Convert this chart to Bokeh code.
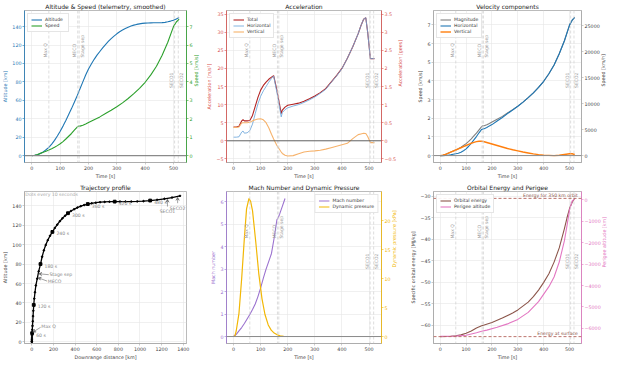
import numpy as np
from bokeh.plotting import figure
from bokeh.models import (Range1d, LinearAxis, FixedTicker, Legend, LegendItem,
                          Span, Label, Arrow, VeeHead)
from bokeh.layouts import gridplot
from bokeh.embed import file_html
from bokeh.resources import INLINE
from bokeh.core.properties import value

FONT = "DejaVu Sans"
TICK_FS = "4.8px"
LAB_FS = "4.8px"
TITLE_FS = "6px"
ANN_FS = "4.6px"

# ------------------------------------------------------------------ data
T10 = list(range(0, 521, 10))
ALTITUDE = [0, 0.3, 1.0, 2.2, 4.0, 6.3, 9.0, 12.5, 16.5, 21.2, 26.5, 32, 38, 44.5, 51, 58,
            65, 72.5, 80, 87.5, 94, 99.5, 104.5, 109, 113, 117, 120.5, 124, 127, 129.7,
            132.2, 134.5, 136.3, 138, 139.4, 140.6, 141.6, 142.4, 143, 143.5, 143.8, 144,
            144.1, 144.2, 144.2, 144.2, 144.3, 144.6, 145.2, 146, 147, 148.3, 150]
DOWNRANGE = [0, 0, 0.1, 0.3, 0.7, 1.5, 2.7, 4.2, 6, 8.5, 11, 14, 17.5, 22.5, 29, 37, 50, 63,
             80, 95, 111, 128, 147, 168, 190, 212, 235, 259, 283, 308, 334, 362, 391, 421,
             452, 484, 517, 553, 591, 631, 673, 718, 766, 815, 866, 919, 974, 1032, 1094,
             1158, 1226, 1296, 1370]

SPEED_T = [0, 10, 20, 30, 40, 50, 60, 70, 80, 90, 100, 110, 120, 130, 140, 150, 160, 165,
           170, 180, 190, 200, 220, 240, 260, 280, 300, 320, 340, 360, 380, 400, 420, 440,
           460, 480, 500, 510, 520]
SPEED = [0, 0.02, 0.06, 0.12, 0.18, 0.24, 0.3, 0.37, 0.45, 0.54, 0.64, 0.76, 0.9, 1.05, 1.2,
         1.38, 1.55, 1.6, 1.6, 1.65, 1.72, 1.8, 1.95, 2.1, 2.28, 2.46, 2.65, 2.86, 3.1, 3.36,
         3.65, 3.98, 4.38, 4.85, 5.45, 6.15, 7.0, 7.25, 7.4]
V_HORIZ = [0, 0, 0.01, 0.02, 0.04, 0.07, 0.1, 0.13, 0.18, 0.26, 0.36, 0.5, 0.66, 0.84, 1.02,
           1.22, 1.4, 1.43, 1.44, 1.5, 1.59, 1.66, 1.85, 2.04, 2.25, 2.44, 2.64, 2.86, 3.1,
           3.36, 3.65, 3.98, 4.38, 4.85, 5.45, 6.15, 7.0, 7.25, 7.4]
V_VERT = [0, 0.02, 0.06, 0.12, 0.18, 0.24, 0.3, 0.36, 0.42, 0.48, 0.54, 0.6, 0.66, 0.71,
          0.75, 0.77, 0.77, 0.76, 0.74, 0.7, 0.66, 0.62, 0.54, 0.46, 0.38, 0.31, 0.25, 0.19,
          0.14, 0.09, 0.05, 0.02, 0.01, 0.0, 0.02, 0.06, 0.1, 0.1, 0.06]

ACC_T = [0, 10, 20, 30, 35, 40, 50, 60, 70, 80, 90, 100, 110, 120, 130, 140, 148, 160, 176,
         180, 190, 200, 220, 240, 260, 280, 300, 320, 340, 360, 380, 400, 420, 440, 460,
         470, 480, 488, 495, 505, 520]
ACC_TOTAL = [3.8, 3.8, 4.0, 5.5, 5.8, 5.5, 5.5, 5.6, 7.0, 9.5, 12.0, 14.0, 15.3, 16.2, 17.0,
             17.6, 18.0, 14.0, 7.5, 8.5, 9.3, 9.8, 10.1, 10.4, 10.9, 11.6, 12.4, 13.3, 14.4,
             16.2, 18.0, 20.0, 22.8, 26.0, 29.6, 31.8, 33.6, 34.0, 30.0, 22.7, 22.7]
ACC_HORIZ = [1.0, 1.0, 1.1, 2.4, 2.7, 2.1, 2.2, 2.8, 4.6, 7.5, 10.2, 12.3, 13.8, 15.0, 16.2,
             17.2, 17.9, 13.4, 6.6, 7.8, 8.6, 9.1, 9.6, 10.0, 10.6, 11.3, 12.1, 13.1, 14.2,
             16.1, 17.9, 19.9, 22.8, 26.0, 29.6, 31.8, 33.6, 34.0, 30.0, 22.7, 22.7]
ACC_VERT = [3.7, 3.7, 3.8, 4.9, 5.0, 5.0, 5.0, 5.1, 5.5, 5.8, 6.0, 6.1, 5.8, 5.0, 3.6, 1.8,
            0.5, -1.3, -3.1, -3.5, -4.0, -4.2, -4.1, -3.6, -3.1, -2.9, -2.8, -2.6, -2.3,
            -1.9, -1.5, -1.1, -0.7, 0.6, 1.7, 1.9, 2.1, 2.0, 1.2, -0.5, -0.5]

MACH_T = [0, 10, 20, 30, 40, 50, 60, 70, 80, 90, 100, 110, 120, 130, 140, 150, 160, 165,
          170, 180, 190]
MACH = [0, 0.1, 0.25, 0.4, 0.58, 0.78, 0.98, 1.2, 1.45, 1.78, 2.17, 2.6, 3.0, 3.35, 3.7,
        4.4, 5.2, 5.3, 5.45, 5.8, 6.15]
Q_T = [0, 5, 10, 20, 30, 40, 48, 57, 63, 70, 82, 93, 105, 116, 128, 139, 150, 161, 172, 185]
Q_KPA = [0, 0.1, 1.0, 4.0, 10.0, 17.0, 22.0, 23.8, 23.3, 21.7, 16.3, 10.9, 6.5, 3.8, 2.0,
         1.1, 0.6, 0.3, 0.12, 0.03]

E_T = [0, 40, 60, 80, 100, 120, 140, 160, 170, 200, 240, 280, 300, 340, 360, 380, 400, 420,
       440, 460, 480, 490, 500, 510, 520]
ENERGY = [-62.6, -62.5, -62.4, -62.2, -61.8, -61.3, -60.6, -60.1, -59.9, -59.3, -58.3, -57.1,
          -56.4, -54.6, -53.3, -51.8, -50.0, -48.0, -45.3, -42.0, -37.5, -35.0, -32.8, -31.4,
          -30.5]
P_T = [0, 60, 100, 140, 160, 180, 220, 260, 300, 340, 380, 420, 440, 460, 480, 490, 500, 510,
       520]
PERIGEE = [-6370, -6360, -6320, -6200, -6130, -6080, -5950, -5790, -5580, -5250, -4750,
           -4050, -3600, -2900, -1900, -1200, -450, -50, 50]
E_ORBIT = -30.5
E_SURFACE = -62.6

EVENT_NAMES = ["Max Q", "MECO", "Stage sep", "SECO1", "SECO2"]
EVENT_T = [60, 162, 167, 504, 517]
DOT_LABEL_T = [60, 120, 180, 240, 300, 360, 420, 480]

TIME_TICKS = [0, 100, 200, 300, 400, 500]

# ------------------------------------------------------------------ styling helpers
EVENT_SIDE = ["left", "left", "right", "left", "right"]
EVENT_FRAC = [0.69, 0.69, 0.69, 0.49, 0.49]
XR = (-26, 546)
W, H = 204, 181


def style_axis(ax, color="#444444", line_color="#aaaaaa"):
    ax.major_label_text_font = FONT
    ax.major_label_text_font_size = TICK_FS
    ax.major_label_text_color = color
    ax.axis_label_text_font = FONT
    ax.axis_label_text_font_size = LAB_FS
    ax.axis_label_text_font_style = "normal"
    ax.axis_label_text_color = color
    ax.axis_line_color = line_color
    ax.axis_line_width = 0.8
    ax.major_tick_line_color = line_color
    ax.major_tick_line_width = 0.6
    ax.minor_tick_line_color = None
    ax.major_tick_out = 2
    ax.major_tick_in = 0
    ax.major_label_standoff = 1
    ax.axis_label_standoff = 1


def make_fig(title, xr, yr, xticks, yticks, xlabel, ylabel, lcolor="#444444",
             lline="#aaaaaa"):
    p = figure(width=W, height=H, x_range=Range1d(*xr), y_range=Range1d(*yr),
               output_backend="svg", toolbar_location=None, title=title)
    p.title.text_font = FONT
    p.title.text_font_size = TITLE_FS
    p.title.text_font_style = "normal"
    p.title.align = "center"
    p.title.text_color = "#222222"
    p.title.standoff = 1
    p.title.offset = 0
    p.min_border_left = 3
    p.min_border_right = 6
    p.min_border_top = 1
    p.min_border_bottom = 1
    p.outline_line_color = "#aaaaaa"
    p.outline_line_width = 0.8
    for g in (p.xgrid, p.ygrid):
        g.grid_line_color = "#e6e6e6"
        g.grid_line_width = 0.6
    p.xaxis.ticker = FixedTicker(ticks=xticks)
    p.yaxis.ticker = FixedTicker(ticks=yticks)
    p.xaxis.axis_label = xlabel
    p.yaxis.axis_label = ylabel
    style_axis(p.xaxis[0])
    style_axis(p.yaxis[0], lcolor, lline)
    return p


def add_right(p, rng, ticks, label, color="#444444", line_color="#aaaaaa"):
    p.extra_y_ranges = {"r": Range1d(*rng)}
    ax = LinearAxis(y_range_name="r", axis_label=label, ticker=FixedTicker(ticks=ticks))
    style_axis(ax, color, line_color)
    ax.axis_label_orientation = np.pi / 2
    p.add_layout(ax, "right")


def add_events(p, yr):
    lo, hi = yr
    for name, t, side, frac in zip(EVENT_NAMES, EVENT_T, EVENT_SIDE, EVENT_FRAC):
        p.add_layout(Span(location=t, dimension="height", line_color="#cfcfcf",
                          line_width=0.7, line_dash="3 2"))
        p.add_layout(Label(x=t, y=lo + frac * (hi - lo), text=name, angle=90,
                           angle_units="deg", text_font=FONT, text_font_size=ANN_FS,
                           text_color="#a0a0a0", text_align="left",
                           text_baseline="bottom" if side == "left" else "top",
                           x_offset=-0.5 if side == "left" else 0.5))


def add_zero(p, color="#888888", width=1.0):
    p.add_layout(Span(location=0, dimension="width", line_color=color, line_width=width))


def add_legend(p, items, loc="top_left"):
    leg = Legend(items=[LegendItem(label=l, renderers=[r]) for l, r in items],
                 location=loc)
    leg.label_text_font = FONT
    leg.label_text_font_size = ANN_FS
    leg.label_text_color = "#333333"
    leg.glyph_width = 11
    leg.glyph_height = 5
    leg.label_height = 5
    leg.label_standoff = 3
    leg.spacing = 1
    leg.padding = 3
    leg.margin = 3
    leg.border_line_color = "#cccccc"
    leg.border_line_width = 0.6
    leg.background_fill_alpha = 0.9
    p.add_layout(leg)


# ------------------------------------------------------------------ panel 1
BLUE, GREEN = "#1f77b4", "#2ca02c"
yr1 = (-7.5, 157.5)
p1 = make_fig("Altitude & Speed (telemetry, smoothed)", XR, yr1, TIME_TICKS,
              [0, 20, 40, 60, 80, 100, 120, 140], "Time [s]", "Altitude [km]", BLUE, BLUE)
add_right(p1, (-0.375, 7.875), [0, 1, 2, 3, 4, 5, 6, 7], "Speed [km/s]", GREEN, GREEN)
add_events(p1, yr1)
add_zero(p1, "#8a8a8a", 1.3)
r_alt = p1.line(T10, ALTITUDE, line_color=BLUE, line_width=1.1)
r_spd = p1.line(SPEED_T, SPEED, line_color=GREEN, line_width=1.1, y_range_name="r")
add_legend(p1, [("Altitude", r_alt), ("Speed", r_spd)])

# ------------------------------------------------------------------ panel 2
RED = "#d9534f"
yr2 = (-6.0, 36.0)
p2 = make_fig("Acceleration", XR, yr2, TIME_TICKS, [-5, 0, 5, 10, 15, 20, 25, 30, 35],
              "Time [s]", "Acceleration [m/s²]", RED, RED)
add_right(p2, (yr2[0] / 10, yr2[1] / 10), [-0.5, 0, 0.5, 1, 1.5, 2, 2.5, 3, 3.5],
          "Acceleration [gees]", RED, RED)
add_events(p2, yr2)
add_zero(p2, "#555555", 0.9)
r_tot = p2.line(ACC_T, ACC_TOTAL, line_color="#b22222", line_width=1.1)
r_ah = p2.line(ACC_T, ACC_HORIZ, line_color="#6fa8dc", line_width=1.0, line_alpha=0.85)
r_av = p2.line(ACC_T, ACC_VERT, line_color="#f6b26b", line_width=1.1)
add_legend(p2, [("Total", r_tot), ("Horizontal", r_ah), ("Vertical", r_av)])

# ------------------------------------------------------------------ panel 3
yr3 = (-0.37, 7.77)
p3 = make_fig("Velocity components", XR, yr3, TIME_TICKS, [0, 1, 2, 3, 4, 5, 6, 7],
              "Time [s]", "Speed [km/s]")
add_right(p3, (yr3[0] * 3600, yr3[1] * 3600), [0, 5000, 10000, 15000, 20000, 25000],
          "Speed [km/h]")
add_events(p3, yr3)
add_zero(p3, "#8a8a8a", 1.0)
r_m = p3.line(SPEED_T, SPEED, line_color="#808080", line_width=1.1)
r_h = p3.line(SPEED_T, V_HORIZ, line_color=BLUE, line_width=1.1)
r_v = p3.line(SPEED_T, V_VERT, line_color="#ff7f0e", line_width=1.4)
add_legend(p3, [("Magnitude", r_m), ("Horizontal", r_h), ("Vertical", r_v)])

# ------------------------------------------------------------------ panel 4
yr4 = (-1.6, 154.5)
p4 = make_fig("Trajectory profile", (-68, 1430), yr4,
              [0, 200, 400, 600, 800, 1000, 1200, 1400],
              [0, 20, 40, 60, 80, 100, 120, 140], "Downrange distance [km]", "Altitude [km]")
p4.line(DOWNRANGE, ALTITUDE, line_color="black", line_width=1.3)
p4.scatter(DOWNRANGE, ALTITUDE, size=1.6, color="black")
dl_x = [DOWNRANGE[T10.index(t)] for t in DOT_LABEL_T]
dl_y = [ALTITUDE[T10.index(t)] for t in DOT_LABEL_T]
p4.scatter(dl_x, dl_y, size=2.8, marker="square", color="black")
p4.text(dl_x, dl_y, text=[f"{t} s" for t in DOT_LABEL_T], x_offset=4, y_offset=2,
        text_font=value(FONT), text_font_size=ANN_FS, text_color="#888888",
        text_baseline="middle", text_align="left")
p4.add_layout(Label(x=-60, y=153.5, text="Dots every 10 seconds", text_font=FONT,
                    text_font_size=ANN_FS, text_color="#aaaaaa", text_baseline="top"))
ev_x = np.interp(EVENT_T, T10, DOWNRANGE)
ev_y = np.interp(EVENT_T, T10, ALTITUDE)
# (text dx, text dy, align, arrow start dx, dy, arrow end dx, dy)
ANN = {"Max Q": (84, 6.8, "left", 78, 6.0, 6, 1.0),
       "MECO": (94, -4.5, "left", 88, -4.0, 5, -0.5),
       "Stage sep": (103, -1.3, "left", 97, -1.2, 5, -0.2),
       "SECO1": (0, -11.4, "center", 0, -8.5, 0, -1.0),
       "SECO2": (0, -9.8, "center", 0, -7.0, 0, -1.0)}
for name, ex, ey in zip(EVENT_NAMES, ev_x, ev_y):
    tdx, tdy, al, sdx, sdy, edx, edy = ANN[name]
    p4.add_layout(Label(x=ex + tdx, y=ey + tdy, text=name, text_font=FONT,
                        text_font_size=ANN_FS, text_color="#888888", text_align=al,
                        text_baseline="middle" if al == "left" else "top"))
    p4.add_layout(Arrow(end=VeeHead(size=3, line_color="#666666", line_width=0.6,
                                    fill_color="#666666"),
                        x_start=ex + sdx, y_start=ey + sdy, x_end=ex + edx, y_end=ey + edy,
                        line_color="#666666", line_width=0.6))

# ------------------------------------------------------------------ panel 5
PURPLE, GOLD = "#9b72cf", "#f2b705"
yr5 = (-0.31, 6.46)
p5 = make_fig("Mach Number and Dynamic Pressure", XR, yr5, TIME_TICKS,
              [0, 1, 2, 3, 4, 5, 6], "Time [s]", "Mach number", PURPLE, PURPLE)
add_right(p5, (-1.2, 25.0), [0, 5, 10, 15, 20], "Dynamic pressure [kPa]", GOLD, GOLD)
add_events(p5, yr5)
add_zero(p5, "#8a8a8a", 1.0)
r_mach = p5.line(MACH_T, MACH, line_color=PURPLE, line_width=1.1)
r_q = p5.line(Q_T, Q_KPA, line_color=GOLD, line_width=1.2, y_range_name="r")
add_legend(p5, [("Mach number", r_mach), ("Dynamic pressure", r_q)], "top_right")

# ------------------------------------------------------------------ panel 6
BROWN, PINK = "#8c564b", "#e377c2"
yr6 = (-64.2, -28.9)
p6 = make_fig("Orbital Energy and Perigee", XR, yr6, TIME_TICKS,
              [-60, -55, -50, -45, -40, -35, -30], "Time [s]",
              "Specific orbital energy [MJ/kg]")
add_right(p6, (-6706, 395), [-6000, -5000, -4000, -3000, -2000, -1000, 0],
          "Perigee altitude [km]", PINK, PINK)
add_events(p6, yr6)
for lvl, txt in ((E_ORBIT, "Energy for 350 km orbit"), (E_SURFACE, "Energy at surface")):
    p6.add_layout(Span(location=lvl, dimension="width", line_color="#b5655e",
                       line_width=1.0, line_dash="3 2", line_alpha=0.9))
    p6.add_layout(Label(x=532, y=lvl, text=txt, text_font=FONT, text_font_size=ANN_FS,
                        text_color="#8c564b", text_align="right", text_baseline="bottom",
                        y_offset=0.5))
r_e = p6.line(E_T, ENERGY, line_color=BROWN, line_width=1.1)
r_p = p6.line(P_T, PERIGEE, line_color=PINK, line_width=1.1, y_range_name="r")
add_legend(p6, [("Orbital energy", r_e), ("Perigee altitude", r_p)])

grid = gridplot([[p1, p2, p3], [p4, p5, p6]], toolbar_location=None)
open("out.html", "w").write(file_html(grid, INLINE))
